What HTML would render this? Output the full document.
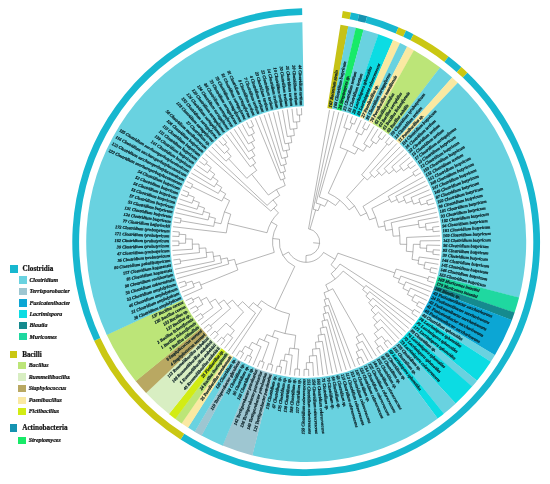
<!DOCTYPE html>
<html lang="en"><head><meta charset="utf-8"><title>Phylogenetic tree</title>
<style>
html,body{margin:0;padding:0;background:#fff}
#fig{position:relative;width:550px;height:484px;overflow:hidden;background:#fff;font-family:"Liberation Serif",serif}
#fig svg{position:absolute;left:0;top:0}
#leg{position:absolute;left:0;top:0;width:70px;height:484px;overflow:hidden}
.sq{position:absolute}
.sq.c{width:7.8px;height:7.6px}
.sq.g{width:7.6px;height:7.4px}
.t{position:absolute;white-space:nowrap;color:#141414;font-weight:bold;line-height:1;-webkit-text-stroke:0.22px #141414}
.t.c{font-size:7.2px}
.t.g{font-size:5.9px;font-style:italic}
</style></head><body>
<div id="fig">
<svg width="550" height="484" viewBox="0 0 550 484">
<g>
<path d="M342.79 11.08A233.9 233.9 0 0 1 350.97 12.52L349.67 19.2A227.1 227.1 0 0 0 341.73 17.8Z" fill="#cac712"/>
<path d="M350.97 12.52A233.9 233.9 0 0 1 359.09 14.26L357.56 20.88A227.1 227.1 0 0 0 349.67 19.2Z" fill="#17b7cf"/>
<path d="M359.09 14.26A233.9 233.9 0 0 1 367.15 16.28L365.38 22.85A227.1 227.1 0 0 0 357.56 20.88Z" fill="#1593b1"/>
<path d="M367.15 16.28A233.9 233.9 0 0 1 398.51 27.19L395.83 33.43A227.1 227.1 0 0 0 365.38 22.85Z" fill="#17b7cf"/>
<path d="M398.51 27.19A233.9 233.9 0 0 1 406.08 30.6L403.18 36.75A227.1 227.1 0 0 0 395.83 33.43Z" fill="#cac712"/>
<path d="M406.08 30.6A233.9 233.9 0 0 1 413.53 34.28L410.41 40.32A227.1 227.1 0 0 0 403.18 36.75Z" fill="#17b7cf"/>
<path d="M413.53 34.28A233.9 233.9 0 0 1 448.55 56.51L444.41 61.9A227.1 227.1 0 0 0 410.41 40.32Z" fill="#cac712"/>
<path d="M448.55 56.51A233.9 233.9 0 0 1 461.36 67.08L456.85 72.16A227.1 227.1 0 0 0 444.41 61.9Z" fill="#17b7cf"/>
<path d="M461.36 67.08A233.9 233.9 0 0 1 467.48 72.7L462.79 77.62A227.1 227.1 0 0 0 456.85 72.16Z" fill="#cac712"/>
<path d="M467.48 72.7A233.9 233.9 0 0 1 180.57 439.39L184.22 433.66A227.1 227.1 0 0 0 462.79 77.62Z" fill="#17b7cf"/>
<path d="M180.57 439.39A233.9 233.9 0 0 1 94.13 340.78L100.3 337.91A227.1 227.1 0 0 0 184.22 433.66Z" fill="#cac712"/>
<path d="M94.13 340.78A233.9 233.9 0 0 1 302.12 8.24L302.24 15.03A227.1 227.1 0 0 0 100.3 337.91Z" fill="#17b7cf"/>
</g><g>
<path d="M340.5 24.79A220 220 0 0 1 348.42 26.19L332.26 108.82A135.8 135.8 0 0 0 327.37 107.96Z" fill="#c6c216"/>
<path d="M348.2 26.15A220 220 0 0 1 356.06 27.83L336.98 109.83A135.8 135.8 0 0 0 332.12 108.8Z" fill="#69d2e0"/>
<path d="M355.84 27.77A220 220 0 0 1 363.64 29.73L341.66 111.01A135.8 135.8 0 0 0 336.84 109.8Z" fill="#18ea68"/>
<path d="M363.42 29.67A220 220 0 0 1 378.57 34.34L350.87 113.86A135.8 135.8 0 0 0 341.52 110.97Z" fill="#69d2e0"/>
<path d="M378.35 34.27A220 220 0 0 1 393.13 40L359.86 117.35A135.8 135.8 0 0 0 350.74 113.81Z" fill="#0cdce3"/>
<path d="M392.92 39.91A220 220 0 0 1 400.25 43.22L364.25 119.33A135.8 135.8 0 0 0 359.73 117.29Z" fill="#fae9a2"/>
<path d="M400.04 43.12A220 220 0 0 1 407.25 46.68L368.58 121.47A135.8 135.8 0 0 0 364.13 119.27Z" fill="#69d2e0"/>
<path d="M407.05 46.58A220 220 0 0 1 414.13 50.39L372.82 123.76A135.8 135.8 0 0 0 368.45 121.41Z" fill="#fae9a2"/>
<path d="M413.93 50.28A220 220 0 0 1 440.18 67.61L388.9 134.39A135.8 135.8 0 0 0 372.7 123.69Z" fill="#bce578"/>
<path d="M440 67.47A220 220 0 0 1 452.23 77.55L396.34 140.53A135.8 135.8 0 0 0 388.79 134.3Z" fill="#69d2e0"/>
<path d="M452.06 77.4A220 220 0 0 1 457.98 82.84L399.89 143.8A135.8 135.8 0 0 0 396.23 140.44Z" fill="#fae9a2"/>
<path d="M457.81 82.68A220 220 0 0 1 519.03 297.81L437.57 276.49A135.8 135.8 0 0 0 399.79 143.7Z" fill="#69d2e0"/>
<path d="M519.09 297.59A220 220 0 0 1 514.54 312.78L434.8 285.73A135.8 135.8 0 0 0 437.61 276.35Z" fill="#1fd8a0"/>
<path d="M514.61 312.56A220 220 0 0 1 511.9 320.13L433.17 290.27A135.8 135.8 0 0 0 434.85 285.59Z" fill="#158a8e"/>
<path d="M511.98 319.92A220 220 0 0 1 494.88 355.24L422.67 311.94A135.8 135.8 0 0 0 433.22 290.13Z" fill="#0ca6d4"/>
<path d="M495 355.04A220 220 0 0 1 490.74 361.87L420.11 316.03A135.8 135.8 0 0 0 422.74 311.82Z" fill="#69d2e0"/>
<path d="M490.87 361.67A220 220 0 0 1 476.96 380.81L411.6 327.72A135.8 135.8 0 0 0 420.19 315.91Z" fill="#0cdce3"/>
<path d="M477.1 380.63A220 220 0 0 1 471.93 386.79L408.5 331.41A135.8 135.8 0 0 0 411.69 327.61Z" fill="#69d2e0"/>
<path d="M472.08 386.62A220 220 0 0 1 455.6 403.59L398.42 341.79A135.8 135.8 0 0 0 408.59 331.31Z" fill="#0cdce3"/>
<path d="M455.77 403.44A220 220 0 0 1 443.76 413.79L391.11 348.08A135.8 135.8 0 0 0 398.52 341.69Z" fill="#69d2e0"/>
<path d="M443.94 413.64A220 220 0 0 1 437.58 418.56L387.3 351.03A135.8 135.8 0 0 0 391.22 347.99Z" fill="#0cdce3"/>
<path d="M437.76 418.43A220 220 0 0 1 252.22 455.37L272.88 373.75A135.8 135.8 0 0 0 387.41 350.94Z" fill="#69d2e0"/>
<path d="M252.44 455.43A220 220 0 0 1 222.56 445.58L254.57 367.7A135.8 135.8 0 0 0 273.01 373.78Z" fill="#9ec6d1"/>
<path d="M222.78 445.67A220 220 0 0 1 201.4 435.53L241.51 361.5A135.8 135.8 0 0 0 254.71 367.76Z" fill="#69d2e0"/>
<path d="M201.6 435.64A220 220 0 0 1 194.6 431.69L237.31 359.13A135.8 135.8 0 0 0 241.63 361.57Z" fill="#9ec6d1"/>
<path d="M194.79 431.81A220 220 0 0 1 187.93 427.61L233.2 356.61A135.8 135.8 0 0 0 237.43 359.2Z" fill="#69d2e0"/>
<path d="M188.13 427.73A220 220 0 0 1 181.42 423.29L229.18 353.94A135.8 135.8 0 0 0 233.32 356.69Z" fill="#fae9a2"/>
<path d="M181.61 423.42A220 220 0 0 1 175.07 418.75L225.26 351.14A135.8 135.8 0 0 0 229.3 354.03Z" fill="#bce578"/>
<path d="M175.25 418.88A220 220 0 0 1 168.88 413.98L221.43 348.2A135.8 135.8 0 0 0 225.37 351.22Z" fill="#d2ec14"/>
<path d="M169.06 414.12A220 220 0 0 1 145.93 392.81L207.27 335.13A135.8 135.8 0 0 0 221.55 348.29Z" fill="#d8eec2"/>
<path d="M146.08 392.97A220 220 0 0 1 135.63 381.05L200.91 327.87A135.8 135.8 0 0 0 207.36 335.23Z" fill="#b9a862"/>
<path d="M135.78 381.23A220 220 0 0 1 106.69 334.81L183.05 299.33A135.8 135.8 0 0 0 201 327.98Z" fill="#bce578"/>
<path d="M106.79 335.02A220 220 0 0 1 302.36 22.13L303.83 106.32A135.8 135.8 0 0 0 183.11 299.46Z" fill="#69d2e0"/>
</g>
<path d="M308.55 228.81A13.5 13.5 0 0 1 306.04 255.6M308.55 228.81L329.51 110.14M310.01 229.15L315.68 209.88M313.21 209.26A33.58 33.58 0 0 1 318.1 210.7M313.21 209.26L334.18 111.05M318.1 210.7L320.48 204.44M316 203.03A40.28 40.28 0 0 1 324.75 206.35M316 203.03L338.82 112.13M324.75 206.35L327.84 200.41M319.24 196.98A46.97 46.97 0 0 1 335.59 205.46M319.24 196.98L343.41 113.37M335.59 205.46L339.78 200.24M328.31 193.2A53.67 53.67 0 0 1 349.14 209.91M328.31 193.2L347.61 150.5M340.06 147.45A100.53 100.53 0 0 1 354.89 154.15M340.06 147.45L346.82 128.54M343.79 127.49A120.61 120.61 0 0 1 349.83 129.66M343.79 127.49L347.96 114.77M349.83 129.66L352.26 123.42M350.14 122.62A127.31 127.31 0 0 1 354.36 124.25M350.14 122.62L352.45 116.34M354.36 124.25L356.89 118.06M354.89 154.15L358.13 148.29M352.85 145.56A107.22 107.22 0 0 1 363.25 151.32M352.85 145.56L358.67 133.5M355.76 132.14A120.61 120.61 0 0 1 361.54 134.94M355.76 132.14L361.26 119.94M361.54 134.94L364.62 128.99M362.6 127.97A127.31 127.31 0 0 1 366.62 130.04M362.6 127.97L365.56 121.97M366.62 130.04L369.79 124.15M363.25 151.32L366.81 145.65M363.79 143.81A113.92 113.92 0 0 1 369.78 147.58M363.79 143.81L373.94 126.48M369.78 147.58L373.52 142.02M370.83 140.27A120.61 120.61 0 0 1 376.16 143.85M370.83 140.27L378 128.96M376.16 143.85L380.04 138.4M378.19 137.1A127.31 127.31 0 0 1 381.87 139.73M378.19 137.1L381.98 131.58M381.87 139.73L385.85 134.34M349.14 209.91L354.5 205.9M346.63 197.28A60.36 60.36 0 0 1 360.56 215.87M346.63 197.28L364.56 177.4M361.65 174.88A87.14 87.14 0 0 1 367.36 180.03M361.65 174.88L387.22 143.9M385.46 142.48A127.31 127.31 0 0 1 388.95 145.35M385.46 142.48L389.63 137.24M388.95 145.35L393.3 140.27M367.36 180.03L372.06 175.26M369.68 173A93.83 93.83 0 0 1 374.36 177.61M369.68 173L396.86 143.42M374.36 177.61L379.22 173.01M376.8 170.53A100.53 100.53 0 0 1 381.55 175.56M376.8 170.53L400.31 146.71M381.55 175.56L386.57 171.13M384.16 168.49A107.22 107.22 0 0 1 388.89 173.84M384.16 168.49L403.63 150.11M388.89 173.84L394.05 169.58M391.76 166.89A113.92 113.92 0 0 1 396.26 172.34M391.76 166.89L406.84 153.63M396.26 172.34L401.55 168.25M399.55 165.73A120.61 120.61 0 0 1 403.49 170.81M399.55 165.73L409.92 157.25M403.49 170.81L408.89 166.85M407.54 165.04A127.31 127.31 0 0 1 410.21 168.69M407.54 165.04L412.86 160.99M410.21 168.69L415.68 164.83M360.56 215.87L366.59 212.96M362.97 206.4A67.06 67.06 0 0 1 369.46 219.87M362.97 206.4L413.97 174.33M412.75 172.43A127.31 127.31 0 0 1 415.16 176.26M412.75 172.43L418.35 168.77M415.16 176.26L420.88 172.79M369.46 219.87L375.78 217.65M371.85 208.5A73.75 73.75 0 0 1 378.44 227.26M371.85 208.5L389.73 199.34M388.18 196.45A93.83 93.83 0 0 1 391.17 202.29M388.18 196.45L423.27 176.91M391.17 202.29L397.23 199.45M395.71 196.34A100.53 100.53 0 0 1 398.64 202.61M395.71 196.34L425.51 181.11M398.64 202.61L404.8 199.98M403.34 196.72A107.22 107.22 0 0 1 406.15 203.28M403.34 196.72L427.6 185.38M406.15 203.28L412.39 200.86M411.06 197.58A113.92 113.92 0 0 1 413.62 204.18M411.06 197.58L429.54 189.73M413.62 204.18L419.93 201.95M418.82 198.93A120.61 120.61 0 0 1 420.96 204.99M418.82 198.93L431.32 194.14M420.96 204.99L427.33 202.93M426.62 200.79A127.31 127.31 0 0 1 428.01 205.09M426.62 200.79L432.95 198.62M428.01 205.09L434.41 203.14M378.44 227.26L385 225.91M383.95 221.46A80.44 80.44 0 0 1 385.79 230.42M383.95 221.46L435.71 207.72M385.79 230.42L392.42 229.45M391.16 222.75A87.14 87.14 0 0 1 393.14 236.23M391.16 222.75L436.85 212.34M393.14 236.23L399.82 235.77M398.87 227.4A93.83 93.83 0 0 1 400.01 244.21M398.87 227.4L418.71 224.25M418.1 220.76A113.92 113.92 0 0 1 419.21 227.75M418.1 220.76L437.83 217M419.21 227.75L425.85 226.91M425.4 223.73A120.61 120.61 0 0 1 426.21 230.1M425.4 223.73L438.64 221.69M426.21 230.1L432.87 229.44M432.63 227.19A127.31 127.31 0 0 1 433.08 231.69M432.63 227.19L439.28 226.4M433.08 231.69L439.75 231.14M400.01 244.21L406.7 244.36M406.62 237.44A100.53 100.53 0 0 1 406.31 251.26M406.62 237.44L440.06 235.89M406.31 251.26L412.98 251.87M413.4 244.27A107.22 107.22 0 0 1 412.01 259.42M413.4 244.27L420.09 244.4M420.11 240.86A113.92 113.92 0 0 1 419.97 247.94M420.11 240.86L440.19 240.65M419.97 247.94L426.65 248.28M426.77 245.07A120.61 120.61 0 0 1 426.45 251.49M426.77 245.07L440.16 245.4M426.45 251.49L433.12 252.01M433.28 249.76A127.31 127.31 0 0 1 432.92 254.26M433.28 249.76L439.96 250.16M432.92 254.26L439.59 254.9M412.01 259.42L418.62 260.51M419.14 257A113.92 113.92 0 0 1 417.99 263.99M419.14 257L439.05 259.63M417.99 263.99L424.56 265.28M425.14 262.12A120.61 120.61 0 0 1 423.9 268.42M425.14 262.12L438.34 264.34M423.9 268.42L430.44 269.88M430.91 267.67A127.31 127.31 0 0 1 429.92 272.08M430.91 267.67L437.47 269.02M429.92 272.08L436.43 273.66M306.04 255.6L305.95 262.29M323.55 252.43A20.19 20.19 0 0 1 288.6 252.01M323.55 252.43L335.06 259.28M337.92 253.14A33.58 33.58 0 0 1 331.02 264.72M337.92 253.14L394.82 272.94M396.09 269.02A93.83 93.83 0 0 1 393.38 276.79M396.09 269.02L428.15 278.63M428.78 276.46A127.31 127.31 0 0 1 427.48 280.79M428.78 276.46L435.23 278.26M427.48 280.79L433.86 282.82M393.38 276.79L399.6 279.27M400.83 276.03A100.53 100.53 0 0 1 398.27 282.46M400.83 276.03L432.34 287.33M398.27 282.46L404.4 285.15M405.78 281.85A107.22 107.22 0 0 1 402.92 288.39M405.78 281.85L430.65 291.78M402.92 288.39L408.95 291.28M410.43 288.06A113.92 113.92 0 0 1 407.38 294.45M410.43 288.06L428.81 296.17M407.38 294.45L413.32 297.53M414.76 294.65A120.61 120.61 0 0 1 411.81 300.36M414.76 294.65L426.81 300.49M411.81 300.36L417.67 303.59M418.74 301.6A127.31 127.31 0 0 1 416.56 305.56M418.74 301.6L424.66 304.73M416.56 305.56L422.36 308.9M331.02 264.72L335.97 269.23M340 264.01A40.28 40.28 0 0 1 331.14 273.73M340 264.01L413.02 311.35M414.24 309.44A127.31 127.31 0 0 1 411.78 313.23M414.24 309.44L419.92 312.98M411.78 313.23L417.33 316.98M331.14 273.73L335.28 278.99M343.19 271.05A46.97 46.97 0 0 1 325.72 284.83M343.19 271.05L364.28 287.55M365.86 285.46A73.75 73.75 0 0 1 362.62 289.6M365.86 285.46L414.6 320.87M362.62 289.6L367.74 293.91M369.56 291.67A80.44 80.44 0 0 1 365.85 296.08M369.56 291.67L411.73 324.67M365.85 296.08L370.81 300.57M372.88 298.2A87.14 87.14 0 0 1 368.66 302.86M372.88 298.2L408.74 328.37M368.66 302.86L373.46 307.53M375.81 305.02A93.83 93.83 0 0 1 371.02 309.95M375.81 305.02L405.61 331.96M371.02 309.95L375.64 314.79M378.34 312.12A100.53 100.53 0 0 1 372.85 317.36M378.34 312.12L402.36 335.43M372.85 317.36L377.29 322.37M380.44 319.46A107.22 107.22 0 0 1 374.03 325.14M380.44 319.46L398.98 338.78M374.03 325.14L378.26 330.33M382.11 327.04A113.92 113.92 0 0 1 374.28 333.44M382.11 327.04L395.49 342.02M374.28 333.44L378.28 338.81M381.66 336.19A120.61 120.61 0 0 1 374.8 341.3M381.66 336.19L385.85 341.41M387.6 339.98A127.31 127.31 0 0 1 384.08 342.81M387.6 339.98L391.88 345.12M384.08 342.81L388.17 348.1M374.8 341.3L378.6 346.81M380.45 345.51A127.31 127.31 0 0 1 376.73 348.08M380.45 345.51L384.36 350.95M376.73 348.08L380.44 353.65M325.72 284.83L328.5 290.91M332.79 288.72A53.67 53.67 0 0 1 324.03 292.72M332.79 288.72L359.33 335.23M362.4 333.41A107.22 107.22 0 0 1 356.2 336.95M362.4 333.41L376.43 356.22M356.2 336.95L359.32 342.87M362.43 341.17A113.92 113.92 0 0 1 356.16 344.47M362.43 341.17L372.34 358.64M356.16 344.47L359.1 350.49M361.97 349.04A120.61 120.61 0 0 1 356.19 351.86M361.97 349.04L368.16 360.92M356.19 351.86L358.97 357.95M361.02 357A127.31 127.31 0 0 1 356.9 358.87M361.02 357L363.9 363.04M356.9 358.87L359.57 365.01M324.03 292.72L326.25 299.03M328.26 298.29A60.36 60.36 0 0 1 324.22 299.71M328.26 298.29L355.17 366.83M324.22 299.71L326.22 306.1M328.47 305.35A67.06 67.06 0 0 1 323.93 306.77M328.47 305.35L350.71 368.49M323.93 306.77L325.7 313.22M328.21 312.49A73.75 73.75 0 0 1 323.17 313.87M328.21 312.49L346.2 369.99M323.17 313.87L324.71 320.39M327.47 319.68A80.44 80.44 0 0 1 321.93 320.99M327.47 319.68L341.63 371.33M321.93 320.99L323.24 327.56M326.24 326.9A87.14 87.14 0 0 1 320.22 328.1M326.24 326.9L337.02 372.51M320.22 328.1L321.3 334.71M324.52 334.13A93.83 93.83 0 0 1 318.05 335.18M324.52 334.13L332.37 373.52M318.05 335.18L318.9 341.82M322.32 341.33A100.53 100.53 0 0 1 315.46 342.2M322.32 341.33L327.69 374.37M315.46 342.2L316.07 348.87M319.62 348.48A107.22 107.22 0 0 1 312.51 349.14M319.62 348.48L322.98 375.05M312.51 349.14L312.91 355.82M316.44 355.56A113.92 113.92 0 0 1 309.37 355.97M316.44 355.56L318.24 375.56M309.37 355.97L309.56 362.66M312.77 362.53A120.61 120.61 0 0 1 306.35 362.71M312.77 362.53L313.5 375.9M306.35 362.71L306.36 369.41M308.62 369.38A127.31 127.31 0 0 1 304.09 369.39M308.62 369.38L308.74 376.08M304.09 369.39L303.98 376.08M288.6 252.01L282.77 255.29M294.75 266.43A26.89 26.89 0 0 1 279.46 239.26M294.75 266.43L274.81 308.84M289.57 313.95A73.75 73.75 0 0 1 261.45 300.72M289.57 313.95L285.04 333.52M295.71 335.35A93.83 93.83 0 0 1 274.66 330.47M295.71 335.35L294.22 348.65M298.72 349.06A107.22 107.22 0 0 1 289.74 348.05M298.72 349.06L297.32 369.1M299.58 369.23A127.31 127.31 0 0 1 295.07 368.92M299.58 369.23L299.23 375.92M295.07 368.92L294.48 375.59M289.74 348.05L288.71 354.67M292.21 355.15A113.92 113.92 0 0 1 285.22 354.07M292.21 355.15L289.75 375.09M285.22 354.07L283.99 360.65M287.15 361.2A120.61 120.61 0 0 1 280.84 360.01M287.15 361.2L285.04 374.42M280.84 360.01L279.43 366.56M281.64 367.01A127.31 127.31 0 0 1 277.22 366.06M281.64 367.01L280.35 373.58M277.22 366.06L275.7 372.58M274.66 330.47L272.41 336.78M278.14 338.63A100.53 100.53 0 0 1 266.8 334.58M278.14 338.63L270.66 364.34M272.84 364.96A127.31 127.31 0 0 1 268.5 363.69M272.84 364.96L271.09 371.42M268.5 363.69L266.52 370.09M266.8 334.58L264.17 340.74M269.04 342.68A107.22 107.22 0 0 1 259.41 338.57M269.04 342.68L262.08 361.51M264.2 362.28A127.31 127.31 0 0 1 259.96 360.71M264.2 362.28L262 368.6M259.96 360.71L257.53 366.95M259.41 338.57L256.49 344.6M261.08 346.7A113.92 113.92 0 0 1 251.99 342.29M261.08 346.7L253.13 365.14M251.99 342.29L248.8 348.18M252.6 350.15A120.61 120.61 0 0 1 245.07 346.07M252.6 350.15L249.63 356.15M251.66 357.13A127.31 127.31 0 0 1 247.61 355.12M251.66 357.13L248.79 363.18M247.61 355.12L244.53 361.07M245.07 346.07L241.68 351.84M243.64 352.97A127.31 127.31 0 0 1 239.74 350.68M243.64 352.97L240.35 358.8M239.74 350.68L236.24 356.39M261.45 300.72L257.39 306.05M261.79 309.18A80.44 80.44 0 0 1 253.21 302.63M261.79 309.18L232.23 353.83M253.21 302.63L248.8 307.66M255.55 313.01A87.14 87.14 0 0 1 242.62 301.68M255.55 313.01L228.31 351.14M242.62 301.68L237.73 306.26M243.54 311.94A93.83 93.83 0 0 1 232.44 300.1M243.54 311.94L230.12 326.89M234.35 330.5A113.92 113.92 0 0 1 226.07 323.08M234.35 330.5L230.13 335.7M232.65 337.69A120.61 120.61 0 0 1 227.66 333.64M232.65 337.69L224.49 348.3M227.66 333.64L223.31 338.72M225.03 340.18A127.31 127.31 0 0 1 221.6 337.23M225.03 340.18L220.77 345.33M221.6 337.23L217.15 342.23M226.07 323.08L216.66 332.59M218.28 334.17A127.31 127.31 0 0 1 215.06 330.99M218.28 334.17L213.66 339.01M215.06 330.99L210.27 335.66M232.44 300.1L227.18 304.24M230.6 308.36A100.53 100.53 0 0 1 223.98 299.94M230.6 308.36L210.46 326.01M211.97 327.7A127.31 127.31 0 0 1 208.99 324.3M211.97 327.7L207.01 332.2M208.99 324.3L203.87 328.62M223.98 299.94L218.51 303.8M221.92 308.38A107.22 107.22 0 0 1 215.35 299.04M221.92 308.38L200.87 324.93M215.35 299.04L209.67 302.59M213.03 307.65A113.92 113.92 0 0 1 206.59 297.37M213.03 307.65L202.08 315.35M203.4 317.19A127.31 127.31 0 0 1 200.8 313.49M203.4 317.19L197.99 321.14M200.8 313.49L195.25 317.25M206.59 297.37L200.73 300.62M202.88 304.32A120.61 120.61 0 0 1 198.72 296.83M202.88 304.32L197.14 307.78M198.33 309.7A127.31 127.31 0 0 1 196 305.83M198.33 309.7L192.66 313.26M196 305.83L190.2 309.18M198.72 296.83L192.76 299.87M193.8 301.88A127.31 127.31 0 0 1 191.75 297.85M193.8 301.88L187.89 305.02M191.75 297.85L185.73 300.78M279.46 239.26L272.8 238.56M274.23 252.4A33.58 33.58 0 0 1 277.11 225.32M274.23 252.4L236 264.71M237.9 269.91A73.75 73.75 0 0 1 234.5 259.39M237.9 269.91L200.69 285.06M202.08 288.32A113.92 113.92 0 0 1 199.41 281.76M202.08 288.32L183.72 296.47M199.41 281.76L193.14 284.09M194.29 287.09A120.61 120.61 0 0 1 192.06 281.07M194.29 287.09L181.87 292.08M192.06 281.07L185.72 283.23M186.47 285.36A127.31 127.31 0 0 1 185.01 281.08M186.47 285.36L180.17 287.64M185.01 281.08L178.64 283.13M234.5 259.39L228 260.95M228.79 264A80.44 80.44 0 0 1 227.32 257.88M228.79 264L177.26 278.58M227.32 257.88L220.75 259.19M221.56 262.83A87.14 87.14 0 0 1 220.1 255.53M221.56 262.83L176.05 273.98M220.1 255.53L213.49 256.56M214.33 261.17A93.83 93.83 0 0 1 212.88 251.91M214.33 261.17L175 269.33M212.88 251.91L206.22 252.61M206.82 257.26A100.53 100.53 0 0 1 205.84 247.94M206.82 257.26L180.35 261.3M180.71 263.53A127.31 127.31 0 0 1 180.03 259.06M180.71 263.53L174.11 264.66M180.03 259.06L173.39 259.95M205.84 247.94L199.16 248.33M199.49 252.6A107.22 107.22 0 0 1 199 244.05M199.49 252.6L172.84 255.23M199 244.05L192.3 244.17M192.51 249.23A113.92 113.92 0 0 1 192.32 239.12M192.51 249.23L172.46 250.48M192.32 239.12L185.63 238.94M185.59 243.23A120.61 120.61 0 0 1 185.82 234.66M185.59 243.23L178.9 243.29M178.94 245.55A127.31 127.31 0 0 1 178.9 241.03M178.94 245.55L172.25 245.73M178.9 241.03L172.2 240.97M185.82 234.66L179.14 234.25M179.02 236.51A127.31 127.31 0 0 1 179.3 232M179.02 236.51L172.33 236.21M179.3 232L172.62 231.46M277.11 225.32L271.31 221.98M267.03 232.74A40.28 40.28 0 0 1 278.48 212.88M267.03 232.74L227.96 223.4M226.29 232.87A80.44 80.44 0 0 1 230.75 214.2M226.29 232.87L173.08 226.73M230.75 214.2L224.47 211.88M221.01 223.76A87.14 87.14 0 0 1 229.57 200.61M221.01 223.76L214.47 222.35M213.69 226.39A93.83 93.83 0 0 1 215.42 218.35M213.69 226.39L180.69 220.78M180.33 223.01A127.31 127.31 0 0 1 181.09 218.56M180.33 223.01L173.71 222.01M181.09 218.56L174.51 217.32M215.42 218.35L208.95 216.65M208.13 220.01A100.53 100.53 0 0 1 209.88 213.32M208.13 220.01L175.47 212.66M209.88 213.32L203.46 211.41M202.5 214.84A107.22 107.22 0 0 1 204.54 208M202.5 214.84L176.6 208.04M204.54 208L198.2 205.87M197.12 209.25A113.92 113.92 0 0 1 199.37 202.54M197.12 209.25L177.89 203.46M199.37 202.54L193.1 200.21M192.02 203.24A120.61 120.61 0 0 1 194.25 197.21M192.02 203.24L179.35 198.92M194.25 197.21L188.04 194.72M187.22 196.83A127.31 127.31 0 0 1 188.9 192.63M187.22 196.83L180.96 194.45M188.9 192.63L182.73 190.03M229.57 200.61L223.68 197.43M221.8 201.09A93.83 93.83 0 0 1 225.72 193.85M221.8 201.09L191.7 186.46M190.73 188.5A127.31 127.31 0 0 1 192.71 184.43M190.73 188.5L184.66 185.68M192.71 184.43L186.74 181.4M225.72 193.85L219.98 190.41M218.25 193.41A100.53 100.53 0 0 1 221.81 187.48M218.25 193.41L188.97 177.19M221.81 187.48L216.19 183.84M214.3 186.87A107.22 107.22 0 0 1 218.18 180.87M214.3 186.87L191.35 173.07M218.18 180.87L212.68 177.05M210.71 179.99A113.92 113.92 0 0 1 214.75 174.18M210.71 179.99L193.87 169.04M214.75 174.18L209.37 170.19M207.49 172.79A120.61 120.61 0 0 1 211.32 167.63M207.49 172.79L196.54 165.1M211.32 167.63L206.06 163.5M204.68 165.29A127.31 127.31 0 0 1 207.47 161.73M204.68 165.29L199.34 161.25M207.47 161.73L202.28 157.51M278.48 212.88L273.87 208.03M270.85 211.17A46.97 46.97 0 0 1 277.17 205.17M270.85 211.17L205.35 153.87M277.17 205.17L273.03 199.91M267.09 205.35A53.67 53.67 0 0 1 279.72 195.42M267.09 205.35L208.54 150.34M279.72 195.42L276.42 189.6M268.39 195.05A60.36 60.36 0 0 1 285.23 185.5M268.39 195.05L251.61 174.18M246.81 178.34A87.14 87.14 0 0 1 256.71 170.38M246.81 178.34L228.55 158.75M226 161.2A113.92 113.92 0 0 1 231.18 156.37M226 161.2L211.86 146.94M231.18 156.37L226.77 151.34M224.38 153.48A120.61 120.61 0 0 1 229.22 149.25M224.38 153.48L215.3 143.65M229.22 149.25L224.94 144.1M223.22 145.56A127.31 127.31 0 0 1 226.7 142.67M223.22 145.56L218.85 140.48M226.7 142.67L222.52 137.44M256.71 170.38L252.91 164.87M250.24 166.78A93.83 93.83 0 0 1 255.64 163.05M250.24 166.78L226.29 134.54M255.64 163.05L252.03 157.41M249.15 159.33A100.53 100.53 0 0 1 254.98 155.6M249.15 159.33L230.16 131.77M254.98 155.6L251.57 149.84M248.53 151.71A107.22 107.22 0 0 1 254.67 148.07M248.53 151.71L234.12 129.14M254.67 148.07L251.45 142.2M248.37 143.95A113.92 113.92 0 0 1 254.58 140.55M248.37 143.95L238.18 126.65M254.58 140.55L251.55 134.58M248.7 136.08A120.61 120.61 0 0 1 254.43 133.16M248.7 136.08L242.32 124.31M254.43 133.16L251.56 127.12M249.52 128.11A127.31 127.31 0 0 1 253.61 126.17M249.52 128.11L246.54 122.11M253.61 126.17L250.84 120.07M285.23 185.5L282.9 179.22M280.68 180.09A67.06 67.06 0 0 1 285.14 178.44M280.68 180.09L255.21 118.18M285.14 178.44L283.04 172.08M280.58 172.94A73.75 73.75 0 0 1 285.54 171.3M280.58 172.94L259.64 116.45M285.54 171.3L283.66 164.88M280.95 165.72A80.44 80.44 0 0 1 286.41 164.13M280.95 165.72L264.13 114.87M286.41 164.13L284.76 157.64M281.8 158.45A87.14 87.14 0 0 1 287.75 156.94M281.8 158.45L268.68 113.46M287.75 156.94L286.33 150.39M283.14 151.14A93.83 93.83 0 0 1 289.55 149.76M283.14 151.14L273.27 112.21M289.55 149.76L288.36 143.17M284.97 143.84A100.53 100.53 0 0 1 291.78 142.61M284.97 143.84L277.9 111.12M291.78 142.61L290.82 135.99M287.29 136.56A107.22 107.22 0 0 1 294.36 135.53M287.29 136.56L282.57 110.2M294.36 135.53L293.62 128.88M290.11 129.33A113.92 113.92 0 0 1 297.14 128.54M290.11 129.33L287.27 109.44M297.14 128.54L296.61 121.87M293.41 122.17A120.61 120.61 0 0 1 299.81 121.66M293.41 122.17L291.99 108.86M299.81 121.66L299.46 114.97M297.2 115.11A127.31 127.31 0 0 1 301.72 114.87M297.2 115.11L296.73 108.44M301.72 114.87L301.48 108.18M319.64 243.36L313.17 242.75" fill="none" stroke="#6c6c6c" stroke-width="0.5"/>
<g font-family="'Liberation Serif', serif" font-size="4.3" font-weight="bold" font-style="italic" fill="#0c2228" stroke="#0c2228" stroke-width="0.22" text-rendering="geometricPrecision">
<text transform="translate(330.03 107.19) rotate(-79.98)" text-anchor="start" dy="0.32em">167 Bacterium strain</text>
<text transform="translate(334.81 108.12) rotate(-77.95)" text-anchor="start" dy="0.32em">164 Clostridium butyricum</text>
<text transform="translate(339.55 109.22) rotate(-75.91)" text-anchor="start" dy="0.32em">26 Streptomyces sp.</text>
<text transform="translate(344.24 110.49) rotate(-73.88)" text-anchor="start" dy="0.32em">23 Clostridium tertium</text>
<text transform="translate(348.89 111.92) rotate(-71.84)" text-anchor="start" dy="0.32em">21 Clostridium tertium</text>
<text transform="translate(353.49 113.52) rotate(-69.81)" text-anchor="start" dy="0.32em">28 Lacrimispora sphenoides</text>
<text transform="translate(358.02 115.28) rotate(-67.77)" text-anchor="start" dy="0.32em">29 Lacrimispora celerecrescens</text>
<text transform="translate(362.49 117.2) rotate(-65.74)" text-anchor="start" dy="0.32em">27 Paenibacillus sp.</text>
<text transform="translate(366.89 119.28) rotate(-63.7)" text-anchor="start" dy="0.32em">91 Clostridium sartagoforme</text>
<text transform="translate(371.22 121.51) rotate(-61.67)" text-anchor="start" dy="0.32em">76 Paenibacillus massiliensis</text>
<text transform="translate(375.46 123.89) rotate(-59.63)" text-anchor="start" dy="0.32em">62 Bacillus pumilus</text>
<text transform="translate(379.61 126.43) rotate(-57.6)" text-anchor="start" dy="0.32em">60 Bacillus aerophilus</text>
<text transform="translate(383.67 129.11) rotate(-55.56)" text-anchor="start" dy="0.32em">61 Bacillus licheniformis</text>
<text transform="translate(387.63 131.93) rotate(-53.53)" text-anchor="start" dy="0.32em">63 Bacillus subtilis</text>
<text transform="translate(391.5 134.89) rotate(-51.49)" text-anchor="start" dy="0.32em">59 Clostridium tyrobutyricum</text>
<text transform="translate(395.25 137.99) rotate(-49.46)" text-anchor="start" dy="0.32em">13 Clostridium tertium</text>
<text transform="translate(398.89 141.22) rotate(-47.42)" text-anchor="start" dy="0.32em">11 Paenibacillus sp.</text>
<text transform="translate(402.41 144.57) rotate(-45.39)" text-anchor="start" dy="0.32em">114 Clostridium butyricum</text>
<text transform="translate(405.82 148.05) rotate(-43.35)" text-anchor="start" dy="0.32em">16 Clostridium tertium</text>
<text transform="translate(409.09 151.64) rotate(-41.32)" text-anchor="start" dy="0.32em">22 Clostridium tertium</text>
<text transform="translate(412.24 155.35) rotate(-39.28)" text-anchor="start" dy="0.32em">15 Clostridium tertium</text>
<text transform="translate(415.25 159.17) rotate(-37.25)" text-anchor="start" dy="0.32em">17 Clostridium sartagoforme</text>
<text transform="translate(418.13 163.1) rotate(-35.22)" text-anchor="start" dy="0.32em">13 Clostridium butyricum</text>
<text transform="translate(420.86 167.12) rotate(-33.18)" text-anchor="start" dy="0.32em">12 Clostridium butyricum</text>
<text transform="translate(423.45 171.24) rotate(-31.15)" text-anchor="start" dy="0.32em">153 Clostridium butyricum</text>
<text transform="translate(425.89 175.45) rotate(-29.11)" text-anchor="start" dy="0.32em">152 Clostridium tertium</text>
<text transform="translate(428.19 179.74) rotate(-27.08)" text-anchor="start" dy="0.32em">151 Clostridium butyricum</text>
<text transform="translate(430.32 184.11) rotate(-25.04)" text-anchor="start" dy="0.32em">148 Clostridium butyricum</text>
<text transform="translate(432.3 188.56) rotate(-23.01)" text-anchor="start" dy="0.32em">147 Clostridium butyricum</text>
<text transform="translate(434.13 193.07) rotate(-20.97)" text-anchor="start" dy="0.32em">149 Clostridium butyricum</text>
<text transform="translate(435.79 197.64) rotate(-18.94)" text-anchor="start" dy="0.32em">97 Clostridium butyricum</text>
<text transform="translate(437.28 202.27) rotate(-16.9)" text-anchor="start" dy="0.32em">150 Clostridium butyricum</text>
<text transform="translate(438.61 206.95) rotate(-14.87)" text-anchor="start" dy="0.32em">98 Clostridium butyricum</text>
<text transform="translate(439.78 211.67) rotate(-12.83)" text-anchor="start" dy="0.32em">101 Clostridium butyricum</text>
<text transform="translate(440.77 216.44) rotate(-10.8)" text-anchor="start" dy="0.32em">93 Clostridium butyricum</text>
<text transform="translate(441.6 221.23) rotate(-8.76)" text-anchor="start" dy="0.32em">102 Clostridium butyricum</text>
<text transform="translate(442.26 226.05) rotate(-6.73)" text-anchor="start" dy="0.32em">94 Clostridium butyricum</text>
<text transform="translate(442.74 230.89) rotate(-4.69)" text-anchor="start" dy="0.32em">161 Clostridium butyricum</text>
<text transform="translate(443.05 235.75) rotate(-2.66)" text-anchor="start" dy="0.32em">160 Clostridium butyricum</text>
<text transform="translate(443.19 240.61) rotate(-0.62)" text-anchor="start" dy="0.32em">143 Clostridium butyricum</text>
<text transform="translate(443.16 245.48) rotate(1.41)" text-anchor="start" dy="0.32em">96 Clostridium butyricum</text>
<text transform="translate(442.95 250.34) rotate(3.45)" text-anchor="start" dy="0.32em">95 Clostridium butyricum</text>
<text transform="translate(442.57 255.19) rotate(5.48)" text-anchor="start" dy="0.32em">99 Clostridium butyricum</text>
<text transform="translate(442.02 260.02) rotate(7.52)" text-anchor="start" dy="0.32em">144 Clostridium butyricum</text>
<text transform="translate(441.3 264.83) rotate(9.55)" text-anchor="start" dy="0.32em">145 Clostridium butyricum</text>
<text transform="translate(440.41 269.62) rotate(11.59)" text-anchor="start" dy="0.32em">146 Clostridium butyricum</text>
<text transform="translate(439.35 274.37) rotate(13.62)" text-anchor="start" dy="0.32em">163 Clostridium butyricum</text>
<text transform="translate(438.12 279.07) rotate(15.66)" text-anchor="start" dy="0.32em">169 Muricomes intestini</text>
<text transform="translate(436.72 283.73) rotate(17.69)" text-anchor="start" dy="0.32em">170 Muricomes intestini</text>
<text transform="translate(435.16 288.34) rotate(19.73)" text-anchor="start" dy="0.32em">168 Blautia sp.</text>
<text transform="translate(433.44 292.89) rotate(21.76)" text-anchor="start" dy="0.32em">43 Fusicatenibacter saccharivorans</text>
<text transform="translate(431.55 297.38) rotate(23.8)" text-anchor="start" dy="0.32em">24 Fusicatenibacter saccharivorans</text>
<text transform="translate(429.51 301.79) rotate(25.83)" text-anchor="start" dy="0.32em">42 Fusicatenibacter saccharivorans</text>
<text transform="translate(427.31 306.14) rotate(27.87)" text-anchor="start" dy="0.32em">41 Fusicatenibacter saccharivorans</text>
<text transform="translate(424.96 310.4) rotate(29.9)" text-anchor="start" dy="0.32em">45 Fusicatenibacter saccharivorans</text>
<text transform="translate(422.46 314.57) rotate(31.94)" text-anchor="start" dy="0.32em">40 Clostridium sphenoides</text>
<text transform="translate(419.82 318.65) rotate(33.97)" text-anchor="start" dy="0.32em">78 Lacrimispora sphenoides</text>
<text transform="translate(417.03 322.64) rotate(36.01)" text-anchor="start" dy="0.32em">75 Lacrimispora sphenoides</text>
<text transform="translate(414.1 326.52) rotate(38.04)" text-anchor="start" dy="0.32em">171 Lacrimispora sphenoides</text>
<text transform="translate(411.03 330.3) rotate(40.08)" text-anchor="start" dy="0.32em">89 Clostridium sp.</text>
<text transform="translate(407.83 333.97) rotate(42.11)" text-anchor="start" dy="0.32em">74 Lacrimispora sphenoides</text>
<text transform="translate(404.51 337.52) rotate(44.15)" text-anchor="start" dy="0.32em">72 Lacrimispora sphenoides</text>
<text transform="translate(401.06 340.95) rotate(46.18)" text-anchor="start" dy="0.32em">73 Lacrimispora celerecrescens</text>
<text transform="translate(397.49 344.25) rotate(48.22)" text-anchor="start" dy="0.32em">109 Clostridium sp.</text>
<text transform="translate(393.8 347.43) rotate(50.25)" text-anchor="start" dy="0.32em">110 Clostridium sp.</text>
<text transform="translate(390.01 350.48) rotate(52.28)" text-anchor="start" dy="0.32em">69 Lacrimispora sphenoides</text>
<text transform="translate(386.11 353.38) rotate(54.32)" text-anchor="start" dy="0.32em">68 Clostridium sp.</text>
<text transform="translate(382.1 356.15) rotate(56.35)" text-anchor="start" dy="0.32em">66 Clostridium sp.</text>
<text transform="translate(378.01 358.77) rotate(58.39)" text-anchor="start" dy="0.32em">105 Clostridium sp.</text>
<text transform="translate(373.82 361.25) rotate(60.42)" text-anchor="start" dy="0.32em">104 Clostridium celerecrescens</text>
<text transform="translate(369.55 363.58) rotate(62.46)" text-anchor="start" dy="0.32em">155 Clostridium celerecrescens</text>
<text transform="translate(365.19 365.75) rotate(64.49)" text-anchor="start" dy="0.32em">154 Clostridium celerecrescens</text>
<text transform="translate(360.76 367.76) rotate(66.53)" text-anchor="start" dy="0.32em">156 Clostridium celerecrescens</text>
<text transform="translate(356.27 369.62) rotate(68.56)" text-anchor="start" dy="0.32em">107 Clostridium sp.</text>
<text transform="translate(351.71 371.32) rotate(70.6)" text-anchor="start" dy="0.32em">112 Clostridium celerecrescens</text>
<text transform="translate(347.09 372.86) rotate(72.63)" text-anchor="start" dy="0.32em">113 Clostridium celerecrescens</text>
<text transform="translate(342.42 374.22) rotate(74.67)" text-anchor="start" dy="0.32em">119 Clostridium celerecrescens</text>
<text transform="translate(337.71 375.43) rotate(76.7)" text-anchor="start" dy="0.32em">65 Clostridium sp.</text>
<text transform="translate(332.95 376.46) rotate(78.74)" text-anchor="start" dy="0.32em">64 Clostridium sp.</text>
<text transform="translate(328.17 377.33) rotate(80.77)" text-anchor="start" dy="0.32em">70 Clostridium sp.</text>
<text transform="translate(323.35 378.02) rotate(82.81)" text-anchor="start" dy="0.32em">71 Clostridium sp.</text>
<text transform="translate(318.51 378.55) rotate(84.84)" text-anchor="start" dy="0.32em">161 Clostridium celerecrescens</text>
<text transform="translate(313.66 378.9) rotate(86.88)" text-anchor="start" dy="0.32em">158 Clostridium celerecrescens</text>
<text transform="translate(308.8 379.08) rotate(88.91)" text-anchor="start" dy="0.32em">151 Clostridium celerecrescens</text>
<text transform="translate(303.93 379.08) rotate(270.95)" text-anchor="end" dy="0.32em">159 Clostridium celerecrescens</text>
<text transform="translate(299.07 378.91) rotate(272.98)" text-anchor="end" dy="0.32em">117 Clostridium sp.</text>
<text transform="translate(294.22 378.58) rotate(275.02)" text-anchor="end" dy="0.32em">188 Clostridium sp.</text>
<text transform="translate(289.38 378.06) rotate(277.05)" text-anchor="end" dy="0.32em">138 Clostridium sp.</text>
<text transform="translate(284.56 377.38) rotate(279.09)" text-anchor="end" dy="0.32em">135 Clostridium sp.</text>
<text transform="translate(279.77 376.53) rotate(281.12)" text-anchor="end" dy="0.32em">67 Clostridium sp.</text>
<text transform="translate(275.02 375.5) rotate(283.16)" text-anchor="end" dy="0.32em">139 Clostridium sp.</text>
<text transform="translate(270.3 374.31) rotate(285.19)" text-anchor="end" dy="0.32em">121 Terrisporobacter petrolearius</text>
<text transform="translate(265.63 372.95) rotate(287.23)" text-anchor="end" dy="0.32em">140 Terrisporobacter petrolearius</text>
<text transform="translate(261.01 371.43) rotate(289.26)" text-anchor="end" dy="0.32em">136 Terrisporobacter petrolearius</text>
<text transform="translate(256.44 369.74) rotate(291.3)" text-anchor="end" dy="0.32em">142 Terrisporobacter petrolearius</text>
<text transform="translate(251.94 367.9) rotate(293.33)" text-anchor="end" dy="0.32em">102 Clostridium sp.</text>
<text transform="translate(247.51 365.89) rotate(295.37)" text-anchor="end" dy="0.32em">95 Clostridium sp.</text>
<text transform="translate(243.15 363.73) rotate(297.4)" text-anchor="end" dy="0.32em">118 Clostridium sp.</text>
<text transform="translate(238.87 361.41) rotate(299.44)" text-anchor="end" dy="0.32em">119 Terrisporobacter glycolicus</text>
<text transform="translate(234.68 358.95) rotate(301.47)" text-anchor="end" dy="0.32em">120 Clostridium sp.</text>
<text transform="translate(230.57 356.33) rotate(303.51)" text-anchor="end" dy="0.32em">35 Paenibacillus motobuensis</text>
<text transform="translate(226.56 353.58) rotate(305.54)" text-anchor="end" dy="0.32em">24 Bacillus thuringiensis</text>
<text transform="translate(222.66 350.68) rotate(307.58)" text-anchor="end" dy="0.32em">25 Fictibacillus sp.</text>
<text transform="translate(218.85 347.64) rotate(309.61)" text-anchor="end" dy="0.32em">49 Rummeliibacillus stabekisii</text>
<text transform="translate(215.16 344.48) rotate(311.65)" text-anchor="end" dy="0.32em">5 Rummeliibacillus stabekisii</text>
<text transform="translate(211.58 341.18) rotate(313.68)" text-anchor="end" dy="0.32em">108 Rummeliibacillus stabekisii</text>
<text transform="translate(208.12 337.76) rotate(315.72)" text-anchor="end" dy="0.32em">113 Rummeliibacillus stabekisii</text>
<text transform="translate(204.79 334.21) rotate(317.75)" text-anchor="end" dy="0.32em">4 Staphylococcus warneri</text>
<text transform="translate(201.58 330.56) rotate(319.78)" text-anchor="end" dy="0.32em">9 Staphylococcus warneri</text>
<text transform="translate(198.51 326.78) rotate(321.82)" text-anchor="end" dy="0.32em">3 Bacillus altitudinis</text>
<text transform="translate(195.57 322.91) rotate(323.85)" text-anchor="end" dy="0.32em">1 Bacillus licheniformis</text>
<text transform="translate(192.77 318.93) rotate(325.89)" text-anchor="end" dy="0.32em">2 Bacillus licheniformis</text>
<text transform="translate(190.11 314.85) rotate(327.92)" text-anchor="end" dy="0.32em">127 Bacillus sp.</text>
<text transform="translate(187.6 310.68) rotate(329.96)" text-anchor="end" dy="0.32em">133 Bacillus sp.</text>
<text transform="translate(185.24 306.43) rotate(331.99)" text-anchor="end" dy="0.32em">130 Bacillus cereus</text>
<text transform="translate(183.03 302.09) rotate(334.03)" text-anchor="end" dy="0.32em">137 Bacillus cereus</text>
<text transform="translate(180.98 297.68) rotate(336.06)" text-anchor="end" dy="0.32em">38 Clostridium amylolyticum</text>
<text transform="translate(179.09 293.2) rotate(338.1)" text-anchor="end" dy="0.32em">31 Clostridium amylolyticum</text>
<text transform="translate(177.35 288.66) rotate(340.13)" text-anchor="end" dy="0.32em">46 Clostridium amylolyticum</text>
<text transform="translate(175.78 284.05) rotate(342.17)" text-anchor="end" dy="0.32em">32 Clostridium amylolyticum</text>
<text transform="translate(174.37 279.39) rotate(344.2)" text-anchor="end" dy="0.32em">33 Clostridium subterminale</text>
<text transform="translate(173.13 274.69) rotate(346.24)" text-anchor="end" dy="0.32em">90 Clostridium cochlearium</text>
<text transform="translate(172.06 269.94) rotate(348.27)" text-anchor="end" dy="0.32em">85 Clostridium kogasensis</text>
<text transform="translate(171.16 265.16) rotate(350.31)" text-anchor="end" dy="0.32em">157 Clostridium kogasensis</text>
<text transform="translate(170.42 260.35) rotate(352.34)" text-anchor="end" dy="0.32em">80 Clostridium pabulibutyricum</text>
<text transform="translate(169.86 255.52) rotate(354.38)" text-anchor="end" dy="0.32em">36 Clostridium tyrobutyricum</text>
<text transform="translate(169.47 250.67) rotate(356.41)" text-anchor="end" dy="0.32em">47 Clostridium tyrobutyricum</text>
<text transform="translate(169.25 245.81) rotate(358.45)" text-anchor="end" dy="0.32em">39 Clostridium tyrobutyricum</text>
<text transform="translate(169.2 240.95) rotate(360.48)" text-anchor="end" dy="0.32em">162 Clostridium tyrobutyricum</text>
<text transform="translate(169.33 236.08) rotate(362.52)" text-anchor="end" dy="0.32em">171 Clostridium tyrobutyricum</text>
<text transform="translate(169.63 231.23) rotate(364.55)" text-anchor="end" dy="0.32em">172 Clostridium tyrobutyricum</text>
<text transform="translate(170.1 226.38) rotate(366.59)" text-anchor="end" dy="0.32em">77 Clostridium beijerinckii</text>
<text transform="translate(170.75 221.56) rotate(368.62)" text-anchor="end" dy="0.32em">124 Clostridium butyricum</text>
<text transform="translate(171.56 216.76) rotate(370.66)" text-anchor="end" dy="0.32em">131 Clostridium butyricum</text>
<text transform="translate(172.55 212) rotate(372.69)" text-anchor="end" dy="0.32em">53 Clostridium butyricum</text>
<text transform="translate(173.7 207.27) rotate(374.73)" text-anchor="end" dy="0.32em">57 Clostridium butyricum</text>
<text transform="translate(175.02 202.59) rotate(376.76)" text-anchor="end" dy="0.32em">55 Clostridium butyricum</text>
<text transform="translate(176.51 197.96) rotate(378.8)" text-anchor="end" dy="0.32em">56 Clostridium butyricum</text>
<text transform="translate(178.16 193.38) rotate(380.83)" text-anchor="end" dy="0.32em">52 Clostridium butyricum</text>
<text transform="translate(179.97 188.86) rotate(382.87)" text-anchor="end" dy="0.32em">54 Clostridium butyricum</text>
<text transform="translate(181.94 184.42) rotate(384.9)" text-anchor="end" dy="0.32em">122 Clostridium saccharoperbutylacetonicum</text>
<text transform="translate(184.06 180.04) rotate(386.94)" text-anchor="end" dy="0.32em">123 Clostridium saccharoperbutylacetonicum</text>
<text transform="translate(186.34 175.74) rotate(388.97)" text-anchor="end" dy="0.32em">116 Clostridium saccharoperbutylacetonicum</text>
<text transform="translate(188.78 171.53) rotate(391.01)" text-anchor="end" dy="0.32em">125 Clostridium saccharoperbutylacetonicum</text>
<text transform="translate(191.36 167.4) rotate(393.04)" text-anchor="end" dy="0.32em">141 Clostridium butyricum</text>
<text transform="translate(194.08 163.37) rotate(395.08)" text-anchor="end" dy="0.32em">139 Clostridium butyricum</text>
<text transform="translate(196.95 159.44) rotate(397.11)" text-anchor="end" dy="0.32em">111 Clostridium butyricum</text>
<text transform="translate(199.95 155.61) rotate(399.15)" text-anchor="end" dy="0.32em">115 Clostridium butyricum</text>
<text transform="translate(203.09 151.9) rotate(401.18)" text-anchor="end" dy="0.32em">106 Clostridium butyricum</text>
<text transform="translate(206.36 148.29) rotate(403.22)" text-anchor="end" dy="0.32em">58 Clostridium manihotivorum</text>
<text transform="translate(209.75 144.8) rotate(405.25)" text-anchor="end" dy="0.32em">37 Clostridium sp.</text>
<text transform="translate(213.27 141.44) rotate(407.28)" text-anchor="end" dy="0.32em">128 Clostridium sartagoforme</text>
<text transform="translate(216.9 138.2) rotate(409.32)" text-anchor="end" dy="0.32em">132 Clostridium sartagoforme</text>
<text transform="translate(220.64 135.1) rotate(411.35)" text-anchor="end" dy="0.32em">126 Clostridium sartagoforme</text>
<text transform="translate(224.5 132.13) rotate(413.39)" text-anchor="end" dy="0.32em">129 Clostridium sartagoforme</text>
<text transform="translate(228.45 129.3) rotate(415.42)" text-anchor="end" dy="0.32em">134 Clostridium sartagoforme</text>
<text transform="translate(232.51 126.61) rotate(417.46)" text-anchor="end" dy="0.32em">84 Clostridium sartagoforme</text>
<text transform="translate(236.66 124.06) rotate(419.49)" text-anchor="end" dy="0.32em">73 Clostridium sartagoforme</text>
<text transform="translate(240.89 121.67) rotate(421.53)" text-anchor="end" dy="0.32em">79 Clostridium sartagoforme</text>
<text transform="translate(245.21 119.43) rotate(423.56)" text-anchor="end" dy="0.32em">81 Clostridium sartagoforme</text>
<text transform="translate(249.6 117.34) rotate(425.6)" text-anchor="end" dy="0.32em">91 Clostridium sartagoforme</text>
<text transform="translate(254.07 115.41) rotate(427.63)" text-anchor="end" dy="0.32em">8 Clostridium tertium</text>
<text transform="translate(258.6 113.64) rotate(429.67)" text-anchor="end" dy="0.32em">7 Clostridium tertium</text>
<text transform="translate(263.19 112.03) rotate(431.7)" text-anchor="end" dy="0.32em">4 Clostridium tertium</text>
<text transform="translate(267.84 110.58) rotate(433.74)" text-anchor="end" dy="0.32em">23 Clostridium tertium</text>
<text transform="translate(272.53 109.3) rotate(435.77)" text-anchor="end" dy="0.32em">22 Clostridium tertium</text>
<text transform="translate(277.27 108.19) rotate(437.81)" text-anchor="end" dy="0.32em">14 Clostridium tertium</text>
<text transform="translate(282.04 107.25) rotate(439.84)" text-anchor="end" dy="0.32em">10 Clostridium tertium</text>
<text transform="translate(286.84 106.47) rotate(441.88)" text-anchor="end" dy="0.32em">30 Clostridium tertium</text>
<text transform="translate(291.67 105.87) rotate(443.91)" text-anchor="end" dy="0.32em">21 Clostridium tertium</text>
<text transform="translate(296.52 105.44) rotate(445.95)" text-anchor="end" dy="0.32em">20 Clostridium tertium</text>
<text transform="translate(301.38 105.18) rotate(447.98)" text-anchor="end" dy="0.32em">44 Clostridium tertium</text>
</g>
</svg>
<div id="leg">
<div class="sq c" style="left:10px;top:265.2px;background:#17b7cf"></div>
<div class="t c" style="left:22.6px;top:266.1px">Clostridia</div>
<div class="sq g" style="left:19px;top:276.4px;background:#69d2e0"></div>
<div class="t g" style="left:29.4px;top:277.8px">Clostridium</div>
<div class="sq g" style="left:19px;top:287.9px;background:#9ec6d1"></div>
<div class="t g" style="left:29.4px;top:289.3px">Terrisporobacter</div>
<div class="sq g" style="left:19px;top:299.3px;background:#0ca6d4"></div>
<div class="t g" style="left:29.4px;top:300.7px">Fusicatenibacter</div>
<div class="sq g" style="left:19px;top:310.4px;background:#0cdce3"></div>
<div class="t g" style="left:29.4px;top:311.8px">Lacrimispora</div>
<div class="sq g" style="left:19px;top:322px;background:#158a8e"></div>
<div class="t g" style="left:29.4px;top:323.4px">Blautia</div>
<div class="sq g" style="left:19px;top:333.1px;background:#1fd8a0"></div>
<div class="t g" style="left:29.4px;top:334.5px">Muricomes</div>
<div class="sq c" style="left:9.6px;top:350.6px;background:#cac712"></div>
<div class="t c" style="left:22.2px;top:351.5px">Bacilli</div>
<div class="sq g" style="left:18.3px;top:362px;background:#bce578"></div>
<div class="t g" style="left:28.7px;top:363.4px">Bacillus</div>
<div class="sq g" style="left:18.3px;top:373.3px;background:#d8eec2"></div>
<div class="t g" style="left:28.7px;top:374.7px">Rummeliibacillus</div>
<div class="sq g" style="left:18.3px;top:384.7px;background:#b9a862"></div>
<div class="t g" style="left:28.7px;top:386.1px">Staphylococcus</div>
<div class="sq g" style="left:18.3px;top:396.5px;background:#fae9a2"></div>
<div class="t g" style="left:28.7px;top:397.9px">Paenibacillus</div>
<div class="sq g" style="left:18.3px;top:407.9px;background:#d2ec14"></div>
<div class="t g" style="left:28.7px;top:409.3px">Fictibacillus</div>
<div class="sq c" style="left:9.6px;top:424.4px;background:#1593b1"></div>
<div class="t c" style="left:22.2px;top:425.3px">Actinobacteria</div>
<div class="sq g" style="left:18.3px;top:437px;background:#18ea68"></div>
<div class="t g" style="left:28.7px;top:438.4px">Streptomyces</div>
</div>
</div>
</body></html>
